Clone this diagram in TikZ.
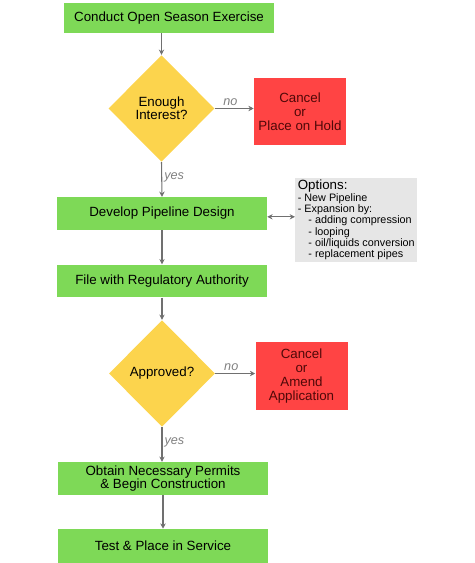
\documentclass[tikz,border=0pt]{standalone}
\usepackage{fontspec}
\setmainfont{Liberation Sans}
\usepackage{tikz}
\usetikzlibrary{arrows.meta,shapes.geometric}
\definecolor{boxgreen}{RGB}{126,217,87}
\definecolor{boxred}{RGB}{255,68,68}
\definecolor{textred}{RGB}{80,8,8}
\definecolor{boxyellow}{RGB}{252,212,77}
\definecolor{boxgray}{RGB}{230,230,230}
\definecolor{linegray}{RGB}{112,112,112}
\definecolor{labelgray}{RGB}{128,128,128}

\begin{document}
\begin{tikzpicture}[x=0.75pt,y=-0.75pt,
  greenbox/.style={fill=boxgreen, minimum width=157.5pt, minimum height=24.5pt, inner sep=0pt, align=center, font=\fontsize{10}{9.2}\selectfont},
  decision/.style={diamond, fill=boxyellow, minimum width=79.5pt, minimum height=80pt, inner sep=0pt, align=center, font=\fontsize{10}{9.8}\selectfont},
  stopbox/.style={fill=boxred, text=textred, minimum width=69pt, minimum height=50.5pt, inner sep=0pt, align=center, font=\fontsize{10}{10.5}\selectfont},
  flow/.style={draw=linegray, line width=0.8pt, -{Stealth[length=4pt,width=4pt]}},
  answer/.style={text=labelgray, font=\fontsize{9.5}{9.5}\selectfont\itshape, inner sep=1.5pt}]
\useasboundingbox (0,0) rectangle (474,563);
% main column
\node[greenbox, minimum height=22.5pt] (conduct) at (169,18) {Conduct Open Season Exercise};
\node[decision] (interest) at (161.5,108.5) {Enough\\Interest?};
\node[stopbox] (hold) at (300,111.5) {Cancel\\or\\Place on Hold};
\node[greenbox] (design) at (162,213.5) {Develop Pipeline Design};
\node[greenbox] (file) at (162,281) {File with Regulatory Authority};
\node[decision] (approved) at (162,373.5) {Approved?};
\node[stopbox] (amend) at (301.5,376) {Cancel\\or\\Amend\\Application};
\node[greenbox] (permits) at (163,478.5) {Obtain Necessary Permits\\\& Begin Construction};
\node[greenbox, minimum height=25.5pt] (service) at (163,546) {Test \& Place in Service};
% options
\node[fill=boxgray, anchor=north west, minimum width=91.5pt, minimum height=63pt, inner xsep=1pt, inner ysep=0pt, align=left, font=\fontsize{8.1}{8.5}\selectfont] (options) at (295,178)
  {{\fontsize{10}{10}\selectfont Options:}\\
   - New Pipeline\\
   - Expansion by:\\
   \hspace*{8pt}- adding compression\\
   \hspace*{8pt}- looping\\
   \hspace*{8pt}- oil/liquids conversion\\
   \hspace*{8pt}- replacement pipes};

\draw[flow] (conduct.south -| interest.north) -- (interest.north);
\draw[flow] (interest.south) -- node[answer, pos=0.45, right] (yes1) {yes} (design.north);
\draw[flow] (interest.east) -- node[answer, pos=0.4, above] (no1) {no} (interest.east -| hold.west);
\draw[flow] (design.south) -- (file.north);
\draw[flow] (file.south) -- (approved.north);
\draw[flow] (approved.east) -- node[answer, pos=0.4, above] (no2) {no} (approved.east -| amend.west);
\draw[flow] (approved.south) -- node[answer, pos=0.45, right] (yes2) {yes} (approved.south |- permits.north);
\draw[flow] (permits.south) -- (permits.south |- service.north);
\draw[flow, {Stealth[length=4pt,width=4pt]}-{Stealth[length=4pt,width=4pt]}] ([yshift=-2.5pt]design.east) -- ([yshift=-2.5pt]design.east -| options.west);
\end{tikzpicture}
\end{document}
